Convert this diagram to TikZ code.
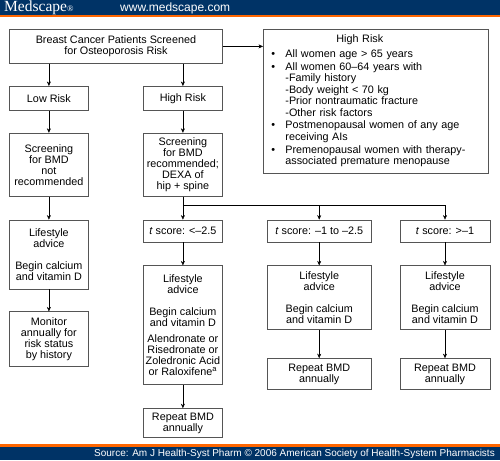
\documentclass[tikz,border=0pt]{standalone}
\usepackage{fontspec}
\setmainfont{Liberation Sans}
\newfontfamily\logofont{Liberation Serif}
\usepackage{xcolor}
\usetikzlibrary{arrows.meta, positioning}
\definecolor{msblue}{HTML}{003366}
\definecolor{msorange}{HTML}{FF6600}
\definecolor{boxline}{HTML}{555555}

\begin{document}
\begin{tikzpicture}[x=1pt,y=-1pt,>={Stealth[length=4.5pt,width=4pt]},
  block/.style={draw=boxline,line width=0.8pt,fill=white,align=center,inner sep=1pt,font=\fontsize{10.8}{11}\selectfont},
  narrow/.style={block,minimum width=79pt},
  midcol/.style={block,minimum width=104pt},
  widecol/.style={block,minimum width=90pt},
  bar/.style={text=white,inner sep=0pt}]
  \useasboundingbox[fill=white] (0,0) rectangle (500,460);
  % header and footer bars
  \fill[msblue] (0,0) rectangle (500,15);
  \fill[msorange] (0,15) rectangle (500,17);
  \fill[msorange] (0,444) rectangle (500,447);
  \fill[msblue] (0,447) rectangle (500,460);
  \node[bar,anchor=west,font=\logofont\fontsize{15.5}{15.5}\selectfont] (logo) at (4,8) {Medscape{\fontsize{8.5}{8.5}\selectfont ®}};
  \node[bar,anchor=west,font=\fontsize{12}{12}\selectfont] (site) at (120,8) {www.medscape.com};
  \node[bar,anchor=east,font=\fontsize{10}{10}\selectfont] (source) at (495,453.5) {Source: Am J Health-Syst Pharm © 2006 American Society of Health-System Pharmacists};

  % left side
  \node[block,anchor=north west,minimum width=213pt,minimum height=34pt] (main) at (9,29) {Breast Cancer Patients Screened\\for Osteoporosis Risk};
  \node[narrow,anchor=north west,minimum height=24pt] (lowrisk) at (9,86) {Low Risk};
  \node[narrow,anchor=north west,minimum height=24pt] (highrisk) at (143,86) {High Risk};
  \node[narrow,below=22pt of lowrisk,minimum height=63pt] (screenno) {Screening\\for BMD\\not\\recommended};
  \node[narrow,below=22pt of highrisk,minimum height=63pt] (screenyes) {Screening\\for BMD\\recommended;\\DEXA of\\hip + spine};
  \node[narrow,below=23pt of screenno,minimum height=69pt] (lifelow) {Lifestyle\\advice\\[11pt]Begin calcium\\and vitamin D};
  \node[narrow,below=22pt of lifelow,minimum height=55pt] (monitor) {Monitor\\annually for\\risk status\\by history};
  \node[narrow,below=23pt of screenyes,minimum height=22pt] (tlow) {\textit{t} score: <–2.5};
  \node[narrow,below=23pt of tlow,minimum height=119pt] (lifehigh) {Lifestyle\\advice\\[11pt]Begin calcium\\and vitamin D\\[5pt]Alendronate or\\Risedronate or\\Zoledronic Acid\\or Raloxifene\textsuperscript{a}};
  \node[narrow,below=23pt of lifehigh,minimum height=29pt] (repeatlow) {Repeat BMD\\annually};

  % right side
  \node[block,anchor=north west,minimum width=225pt,minimum height=144pt,text width=209pt,inner xsep=8pt,align=left] (hrbox) at (263,29) {%
    \fontsize{10.8}{11.4}\selectfont
    \begin{tabular}{@{}p{14pt}@{}l@{}}
      \multicolumn{2}{@{}l@{}}{\hspace{65pt}High Risk}\\[3.5pt]
      \textbullet & All women age > 65 years\\[1.5pt]
      \textbullet & All women 60–64 years with\\
                  & -Family history\\
                  & -Body weight < 70 kg\\
                  & -Prior nontraumatic fracture\\
                  & -Other risk factors\\[1.5pt]
      \textbullet & Postmenopausal women of any age\\
                  & receiving AIs\\[1.5pt]
      \textbullet & Premenopausal women with therapy-\\
                  & associated premature menopause
    \end{tabular}};
  \node[midcol,right=44pt of tlow,minimum height=22pt] (tmid) {\textit{t} score: –1 to –2.5};
  \node[widecol,right=28pt of tmid,minimum height=22pt] (thigh) {\textit{t} score: >–1};
  \node[midcol,below=23pt of tmid,minimum height=64pt] (lifemid) {Lifestyle\\advice\\[11pt]Begin calcium\\and vitamin D};
  \node[widecol,below=23pt of thigh,minimum height=64pt] (lifetop) {Lifestyle\\advice\\[11pt]Begin calcium\\and vitamin D};
  \node[midcol,below=28pt of lifemid,minimum height=31pt] (repeatmid) {Repeat BMD\\annually};
  \node[widecol,below=28pt of lifetop,minimum height=31pt] (repeattop) {Repeat BMD\\annually};
  \coordinate[below=9pt of screenyes] (split);

  % connectors
  \draw[->] (main) -- (main -| hrbox.west);
  \draw[->] (main.south -| lowrisk) -- (lowrisk);
  \draw[->] (main.south -| highrisk) -- (highrisk);
  \draw[->] (lowrisk) -- (screenno);
  \draw[->] (screenno) -- (lifelow);
  \draw[->] (lifelow) -- (monitor);
  \draw[->] (highrisk) -- (screenyes);
  \draw[->] (screenyes) -- (tlow);
  \draw[->] (split) -| (thigh);
  \draw[->] (split -| tmid) -- (tmid);
  \draw[->] (tlow) -- (lifehigh);
  \draw[->] (lifehigh) -- (repeatlow);
  \draw[->] (tmid) -- (lifemid);
  \draw[->] (lifemid) -- (repeatmid);
  \draw[->] (thigh) -- (lifetop);
  \draw[->] (lifetop) -- (repeattop);
\end{tikzpicture}
\end{document}
